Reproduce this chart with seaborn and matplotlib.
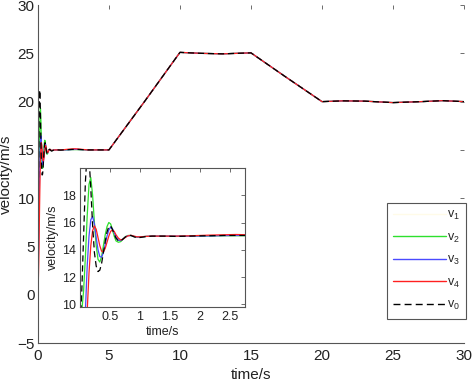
import matplotlib
matplotlib.use("Agg")
import matplotlib.pyplot as plt
import seaborn as sns
import numpy as np
from matplotlib.lines import Line2D

sns.set_theme(style="white")
plt.rcParams['font.family'] = ['Liberation Sans', 'DejaVu Sans']
plt.rcParams['mathtext.fontset'] = 'custom'
plt.rcParams['mathtext.rm'] = 'Liberation Sans'
plt.rcParams['mathtext.it'] = 'Liberation Sans'

# ---- data ----
time = [0, 0.03, 0.06, 0.09, 0.12, 0.15, 0.18, 0.21, 0.24, 0.27, 0.30, 0.33, 0.36, 0.39,
        0.42, 0.45, 0.48, 0.51, 0.54, 0.57, 0.60, 0.64, 0.68, 0.72, 0.76, 0.80, 0.85, 0.90,
        0.95, 1.0, 1.1, 1.2, 1.4, 1.6, 1.8, 2.0, 2.2, 2.4, 2.6, 2.8,
        3.5, 5, 7.5, 10, 11.5, 13, 15, 17.5, 20, 21.5, 23, 25, 27, 28.5, 30]

tail = [15.0, 15.0, 20.0, 25.1, 25.0, 24.95, 25.05, 22.5, 20.0, 20.08, 20.05, 19.9, 20.0, 20.1, 20.0]

v1 = [5, 6.5, 8.5, 11.5, 14.3, 16.0, 16.6, 16.2, 15.2, 14.2, 13.6, 13.5, 13.8, 14.4,
      15.0, 15.5, 15.7, 15.6, 15.3, 15.0, 14.75, 14.65, 14.7, 14.85, 15.0, 15.05, 15.04, 14.98,
      14.95, 14.96, 14.99, 15.0, 15.0, 15.0, 15.0, 15.01, 15.02, 15.03, 15.03, 15.03] + tail
v2 = [9, 9.5, 11, 13.5, 16.5, 18.8, 19.3, 18.0, 16.0, 14.3, 13.3, 13.1, 13.5, 14.3,
      15.1, 15.7, 16.0, 15.9, 15.5, 15.0, 14.65, 14.55, 14.6, 14.8, 14.97, 15.05, 15.05, 14.97,
      14.92, 14.93, 14.98, 15.0, 15.0, 14.98, 15.0, 15.0, 15.02, 15.03, 15.03, 15.03] + tail
v3 = [2, 3.5, 6, 9.5, 12.8, 15.0, 16.2, 16.45, 15.9, 14.9, 14.0, 13.5, 13.45, 13.8,
      14.4, 15.0, 15.45, 15.65, 15.55, 15.25, 14.95, 14.7, 14.68, 14.8, 14.95, 15.03, 15.05, 14.98,
      14.93, 14.94, 14.98, 15.0, 15.0, 15.0, 15.0, 15.01, 15.02, 15.04, 15.05, 15.05] + tail
v4 = [0, 1.5, 3.5, 6.5, 9.5, 12.3, 14.3, 15.4, 15.75, 15.5, 14.9, 14.3, 13.9, 13.85,
      14.1, 14.55, 15.0, 15.35, 15.45, 15.35, 15.1, 14.85, 14.72, 14.78, 14.92, 15.02, 15.06, 15.0,
      14.95, 14.95, 14.98, 15.0, 15.0, 15.0, 15.02, 15.05, 15.08, 15.1, 15.12, 15.1] + tail
v0 = [8, 11, 15, 19, 21.2, 20.8, 18.5, 15.8, 13.8, 12.8, 12.4, 12.5, 13.0, 13.8,
      14.6, 15.3, 15.7, 15.75, 15.5, 15.15, 14.85, 14.65, 14.65, 14.8, 14.95, 15.05, 15.05, 14.95,
      14.88, 14.9, 14.97, 15.0, 15.0, 14.98, 15.0, 15.02, 15.03, 15.05, 15.05, 15.05] + tail

labels = ['v$_1$', 'v$_2$', 'v$_3$', 'v$_4$', 'v$_0$']
colors = ['#fffbe8', '#2ee02e', '#4a4aff', '#ff2020', '#000000']
styles = ['-', '-', '-', '-', (0, (5, 3))]
series = [v1, v2, v3, v4, v0]

fig = plt.figure(figsize=(4.74, 3.81), dpi=100)
ax = fig.add_axes([0.080, 0.0997, 0.899, 0.887])

def draw(a, lw):
    for s, c, ls in zip(series, colors, styles):
        sns.lineplot(x=time, y=s, ax=a, color=c, linestyle=ls, linewidth=lw,
                     estimator=None, sort=False, legend=False)

draw(ax, 0.9)
ax.set_xlim(0, 30)
ax.set_ylim(-5, 30)
ax.set_xticks(range(0, 31, 5))
ax.set_yticks(range(-5, 31, 5))
for sp in ['top', 'right']:
    ax.spines[sp].set_visible(False)
for sp in ['left', 'bottom']:
    ax.spines[sp].set_color('#555555')
    ax.spines[sp].set_linewidth(0.8)
ax.tick_params(direction='in', length=3, width=0.6, color='#555555', top=True, right=True,
               labelsize=11, pad=4, labelcolor='#222222')
ax.tick_params(axis='y', pad=2.5)
ax.set_xlabel('time/s', fontsize=11, color='#222222')
ax.set_ylabel('velocity/m/s', fontsize=11, color='#222222')
ax.xaxis.set_label_coords(0.5, -0.075)
ax.yaxis.set_label_coords(-0.058, 0.5)

handles = [Line2D([], [], color=c, linestyle=ls, linewidth=1.0) for c, ls in zip(colors, styles)]
leg = ax.legend(handles, labels, loc='upper left', bbox_to_anchor=(387/474, 1-203/381),
                bbox_transform=fig.transFigure, fontsize=9, handlelength=4.2, handletextpad=0.1,
                labelspacing=0.75, borderpad=0.5, frameon=True, fancybox=False, framealpha=1,
                edgecolor='#555555', borderaxespad=0)
leg.get_frame().set_linewidth(0.8)

ins = fig.add_axes([80/474, 1-307/381, 165/474, 139/381])
draw(ins, 0.9)
ins.set_xlim(0, 2.75)
ins.set_ylim(9.8, 20)
ins.set_xticks([0.5, 1, 1.5, 2, 2.5])
ins.set_xticklabels(['0.5', '1', '1.5', '2', '2.5'])
ins.set_yticks([10, 12, 14, 16, 18])
for sp in ins.spines.values():
    sp.set_color('#555555')
    sp.set_linewidth(0.8)
ins.tick_params(direction='in', length=3, width=0.6, color='#555555', top=True, right=True,
                labelsize=9, pad=3, labelcolor='#222222')
ins.set_xlabel('time/s', fontsize=9, labelpad=2, color='#222222')
ins.set_ylabel('velocity/m/s', fontsize=9, labelpad=2, color='#222222')

fig.savefig('out.png', dpi=100)
